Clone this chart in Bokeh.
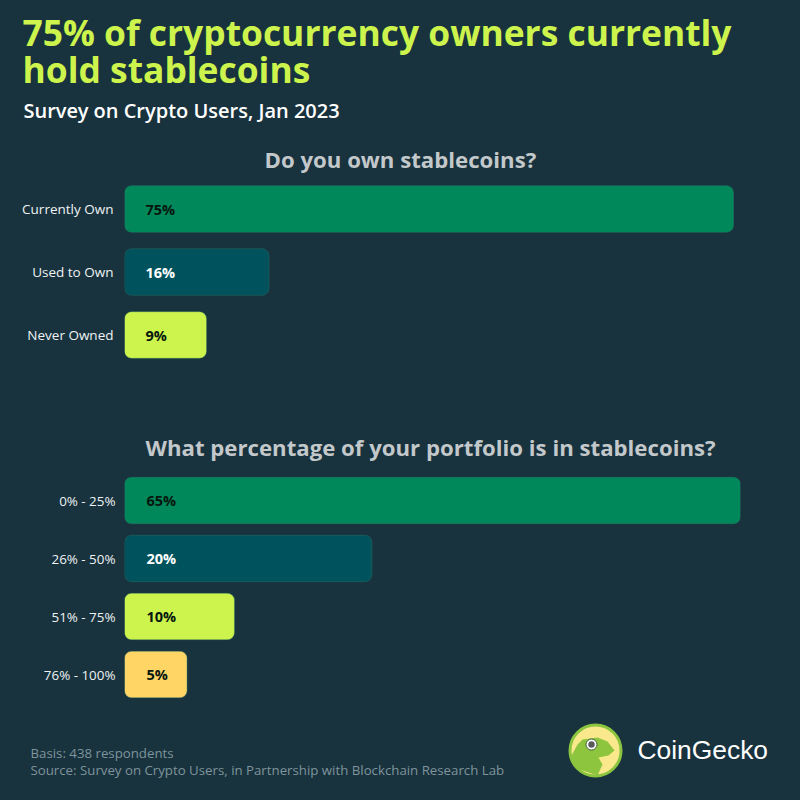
from bokeh.plotting import figure
from bokeh.layouts import column
from bokeh.models import Label, Title, ColumnDataSource, Range1d, FactorRange
from bokeh.core.properties import value
from bokeh.embed import file_html
from bokeh.resources import INLINE

BG = "#18323e"
GREEN = "#01885a"; TEAL = "#00525c"; LIME = "#cdf44c"; YELLOW = "#ffd566"

title_lines = ["75% of cryptocurrency owners currently", "hold stablecoins"]
subtitle = "Survey on Crypto Users, Jan 2023"

q1_title = "Do you own stablecoins?"
q1_categories = ["Currently Own", "Used to Own", "Never Owned"]
q1_labels = ["75%", "16%", "9%"]
# The source infographic's bars are not proportional to their printed labels:
# these are the bar lengths, labels hold the stated figures.
q1_bar_lengths = [75, 17.8, 10.1]
q1_colors = [GREEN, TEAL, LIME]
q1_text_colors = ["#06170f", "#ffffff", "#06170f"]

q2_title = "What percentage of your portfolio is in stablecoins?"
q2_categories = ["0% - 25%", "26% - 50%", "51% - 75%", "76% - 100%"]
q2_labels = ["65%", "20%", "10%", "5%"]
q2_bar_lengths = [65, 26.1, 11.6, 6.6]
q2_colors = [GREEN, TEAL, LIME, YELLOW]
q2_text_colors = ["#06170f", "#ffffff", "#06170f", "#06170f"]

footnotes = ["Basis: 438 respondents",
             "Source: Survey on Crypto Users, in Partnership with Blockchain Research Lab"]
brand = "CoinGecko"

W = 800
LEFT = 124
RIGHT = 60
FONT = "Open Sans"


def blank(h):
    # data coordinates of these panels are page pixels
    p = figure(width=W, height=h, toolbar_location=None, output_backend="svg",
               x_range=Range1d(0, W), y_range=Range1d(h, 0), frame_align=False,
               min_border=0, min_border_left=0, min_border_right=0, min_border_top=0, min_border_bottom=0,
               outline_line_color=None, background_fill_color=BG, border_fill_color=BG)
    p.axis.visible = False
    p.grid.visible = False
    return p


def chart(cats, lengths, labels, colors, tcolors, heading, xmax, top, frame_h, bottom,
          bar_h, head_off, head_standoff, tick_size, tick_standoff, label_off):
    src = ColumnDataSource(dict(cat=cats, val=lengths, label=labels, color=colors, tcolor=tcolors,
                                zero=[0] * len(cats)))
    p = figure(width=W, height=top + frame_h + bottom, toolbar_location=None, output_backend="svg",
               y_range=FactorRange(factors=list(reversed(cats))), x_range=Range1d(0, xmax), frame_align=False,
               min_border_left=LEFT, min_border_right=RIGHT, min_border_top=top, min_border_bottom=bottom,
               outline_line_color=None, background_fill_color=BG, border_fill_color=BG)
    p.grid.visible = False
    p.xaxis.visible = False
    p.yaxis.axis_line_color = None
    p.yaxis.major_tick_line_color = None
    p.yaxis.minor_tick_line_color = None
    p.yaxis.major_tick_out = 0
    p.yaxis.major_label_text_color = "#eef2f3"
    p.yaxis.major_label_text_font = FONT
    p.yaxis.major_label_text_font_size = tick_size
    p.yaxis.major_label_standoff = tick_standoff
    p.hbar(y="cat", right="val", left=0, height=bar_h, source=src, fill_color="color",
           line_color="#2f7a6a", line_alpha=0.4, line_width=1, border_radius=7)
    p.text(x="zero", y="cat", text="label", source=src, text_color="tcolor", text_font=value(FONT),
           text_font_style="bold", text_font_size="14.5px", text_align="left",
           text_baseline="middle", x_offset=label_off, y_offset=0)
    t = Title(text=heading, align="left", offset=head_off, text_color="#c3c8ca", standoff=head_standoff,
              text_font=FONT, text_font_style="bold", text_font_size="22.2px")
    p.add_layout(t, "above")
    return p


head = blank(136)
for i, line in enumerate(title_lines):
    head.add_layout(Label(x=22, y=31 + i * 37.5, text=line, text_color=LIME, text_font=FONT,
                          text_font_style="bold", text_font_size="35.4px", text_baseline="middle"))
head.add_layout(Label(x=23, y=110, text=subtitle, text_color="#ffffff", text_font="Open Sans SemiBold",
                      text_font_size="20px", text_baseline="middle"))

c1 = chart(q1_categories, q1_bar_lengths, q1_labels, q1_colors, q1_text_colors, q1_title,
           75.86, 41, 189, 55, 0.74, 140, 6, "13.5px", 11, 21)
c2 = chart(q2_categories, q2_bar_lengths, q2_labels, q2_colors, q2_text_colors, q2_title,
           65, 50, 232, 0, 0.8, 21, 17, "13.4px", 9, 22)

foot = blank(97)
# CoinGecko logo, as decoration (coordinates in px of this panel)
cx, cy = 595, 47
foot.circle(x=[cx], y=[cy], radius=26, fill_color="#f9e98c", line_color=None)
foot.patch(x=[cx - 25, cx - 18, cx - 13, cx + 2, cx + 12, cx + 19, cx + 13, cx + 3, cx + 7, cx + 2, cx - 19],
           y=[cy + 7, cy - 6, cy - 11, cy - 13, cy - 9, cy, cy + 5, cy + 7, cy + 14, cy + 25, cy + 18],
           fill_color="#8dc53e", line_color=None)
foot.circle(x=[cx], y=[cy], radius=25.5, fill_color=None, line_color="#8bc53f", line_width=3)
foot.circle(x=[cx - 4], y=[cy - 6], radius=5.5, fill_color="#ffffff", line_color="#3f5a3a", line_width=1)
foot.circle(x=[cx - 4], y=[cy - 6], radius=3.2, fill_color="#58595b", line_color=None)
foot.add_layout(Label(x=637, y=46, text=brand, text_color="#ffffff", text_font="Liberation Sans",
                      text_font_size="26.4px", text_baseline="middle"))
for i, line in enumerate(footnotes):
    foot.add_layout(Label(x=30, y=49 + i * 17, text=line, text_color="#7f949b", text_font=FONT,
                          text_font_size="13.25px", text_baseline="middle"))

page = column(head, c1, c2, foot, spacing=0)
TEMPLATE = "{% block preamble %}<style>html,body{margin:0;padding:0;overflow:hidden;background:" + BG + ";}</style>{% endblock %}"
open("out.html", "w").write(file_html(page, INLINE, template=TEMPLATE))
